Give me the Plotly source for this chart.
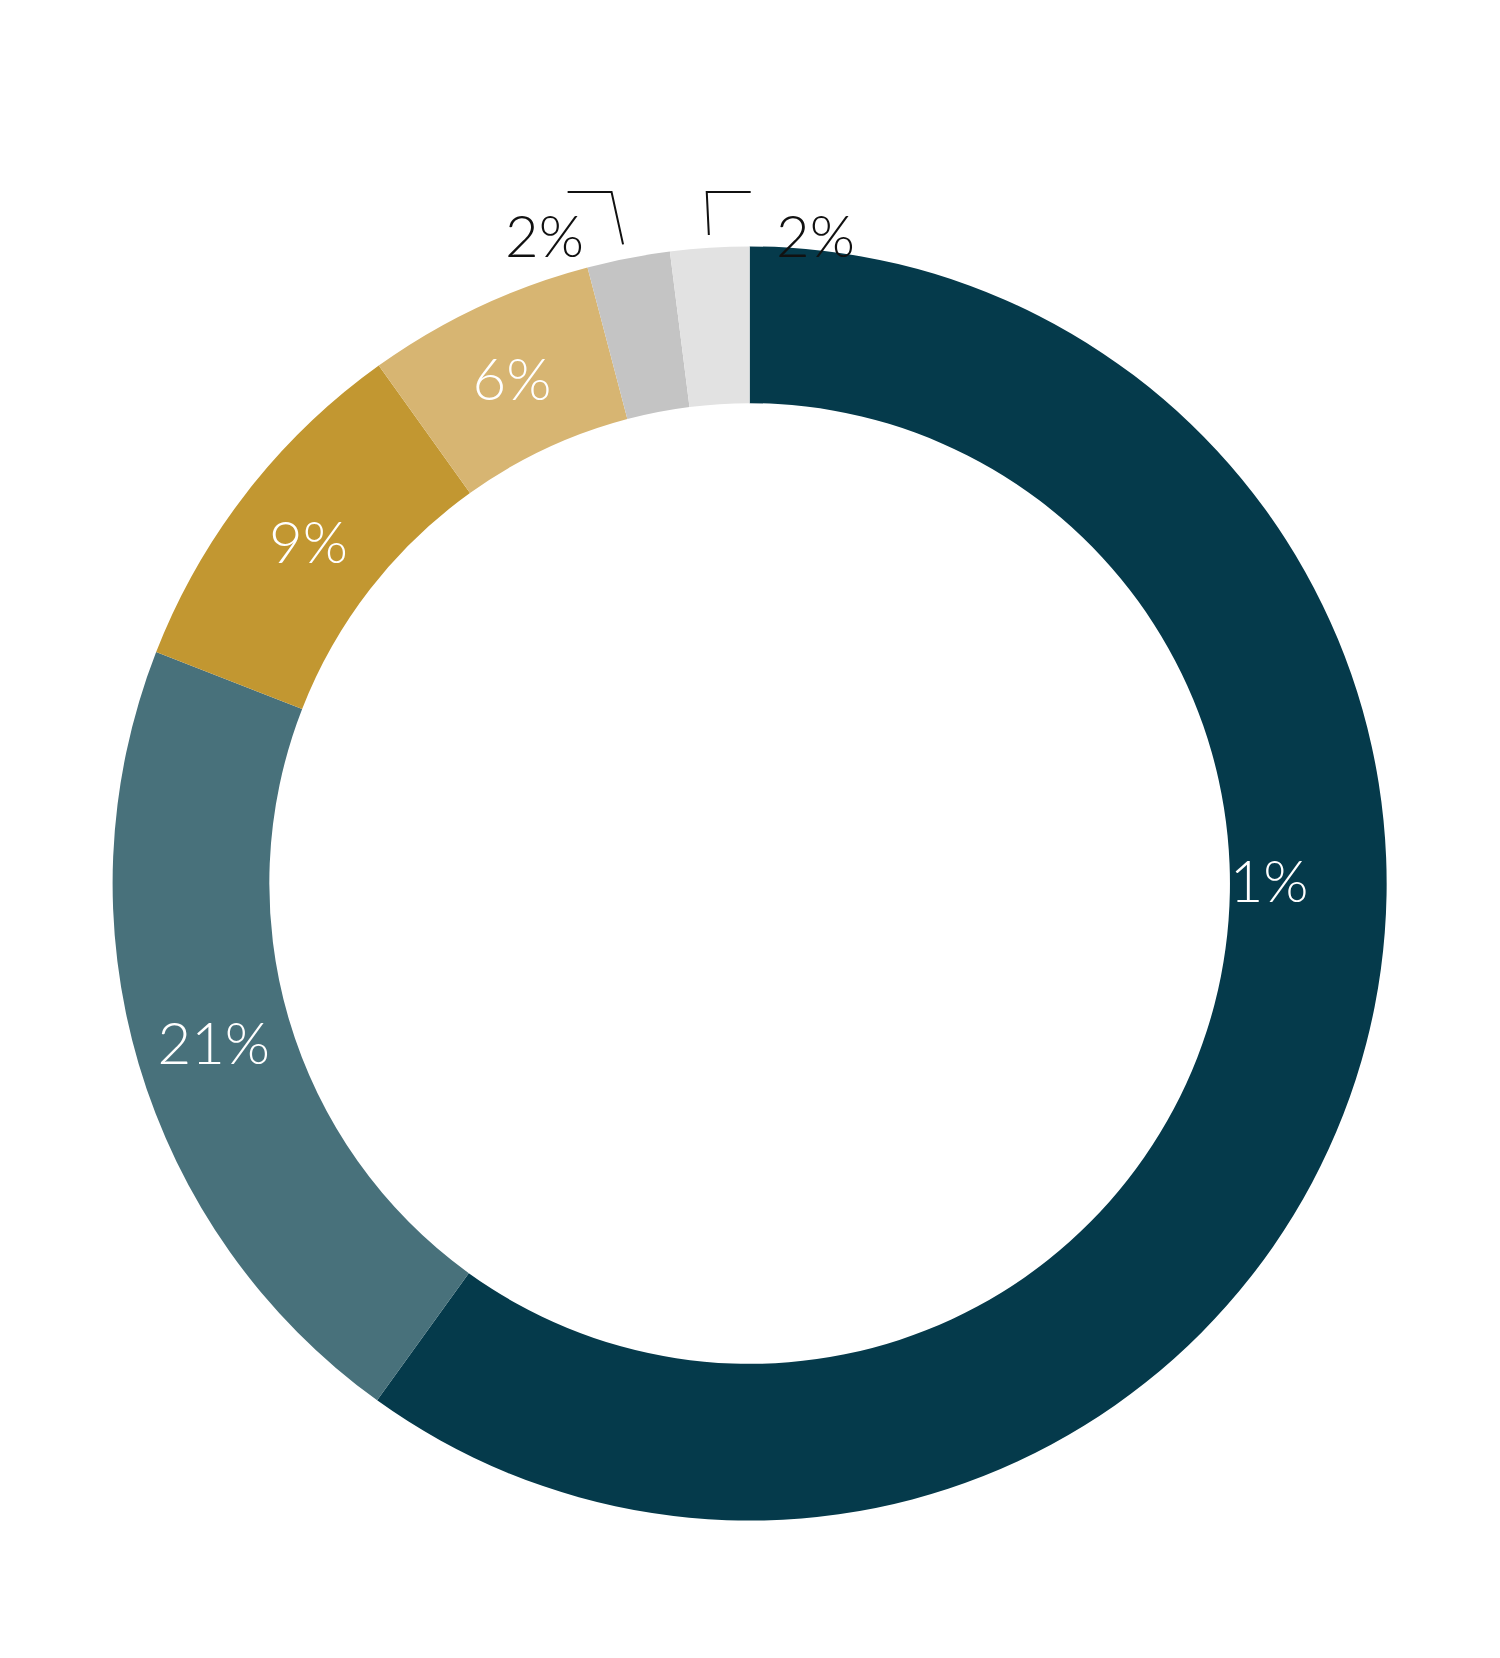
import plotly.graph_objects as go

segments = ["A", "B", "C", "D", "E", "F"]
values = [60.0, 21.0, 9.2, 5.8, 2.1, 2.0]
labels_text = ["", "21%", "9%", "6%", "", ""]
dark_label = "21%"
outside_text = ["2%", "2%"]
colors = ["#053a4b", "#48717b", "#c29731", "#d7b572", "#c4c4c4", "#e2e2e2"]

W, H = 1500, 1658
S = 0.956  # reference measured in display scale
SW, SH = W * S, H * S
fig = go.Figure(go.Pie(
    labels=segments, values=values, text=labels_text, textinfo="text",
    textposition="inside", insidetextorientation="horizontal",
    textfont=dict(family="Lato", size=58, color="white", weight=300),
    marker=dict(colors=colors, line=dict(width=0)),
    hole=0.754, sort=False, direction="clockwise", rotation=0,
    domain=dict(x=[99/SW, 1319/SW], y=[1-1446/SH, 1-228/SH]),
    showlegend=False, hoverinfo="skip"))

def px(x, y):
    return x / SW, 1 - y / SH

ann = []
for (x, y), t in zip([(473, 182), (772, 182)], outside_text):
    ax, ay = px(x, y)
    ann.append(dict(x=ax, y=ay, xref="paper", yref="paper", text=t, showarrow=False,
                    font=dict(family="Lato", size=58, color="#111111", weight=300)))
ax, ay = px(1246, 833)
ann.append(dict(x=ax, y=ay, xref="paper", yref="paper", text=dark_label, showarrow=False,
                font=dict(family="Lato", size=58, color="white", weight=300)))
shapes = []
for pts in [[(535, 176), (577, 176), (588, 226)], [(710, 176), (668, 176), (670, 217)]]:
    p = [px(*q) for q in pts]
    path = "M %f %f L %f %f L %f %f" % (p[0][0], p[0][1], p[1][0], p[1][1], p[2][0], p[2][1])
    shapes.append(dict(type="path", xref="paper", yref="paper", path=path,
                       line=dict(color="#111111", width=2)))

fig.update_layout(width=W, height=H, margin=dict(l=0, r=0, t=0, b=0),
                  paper_bgcolor="white", annotations=ann, shapes=shapes)
fig.write_html("out.html")
